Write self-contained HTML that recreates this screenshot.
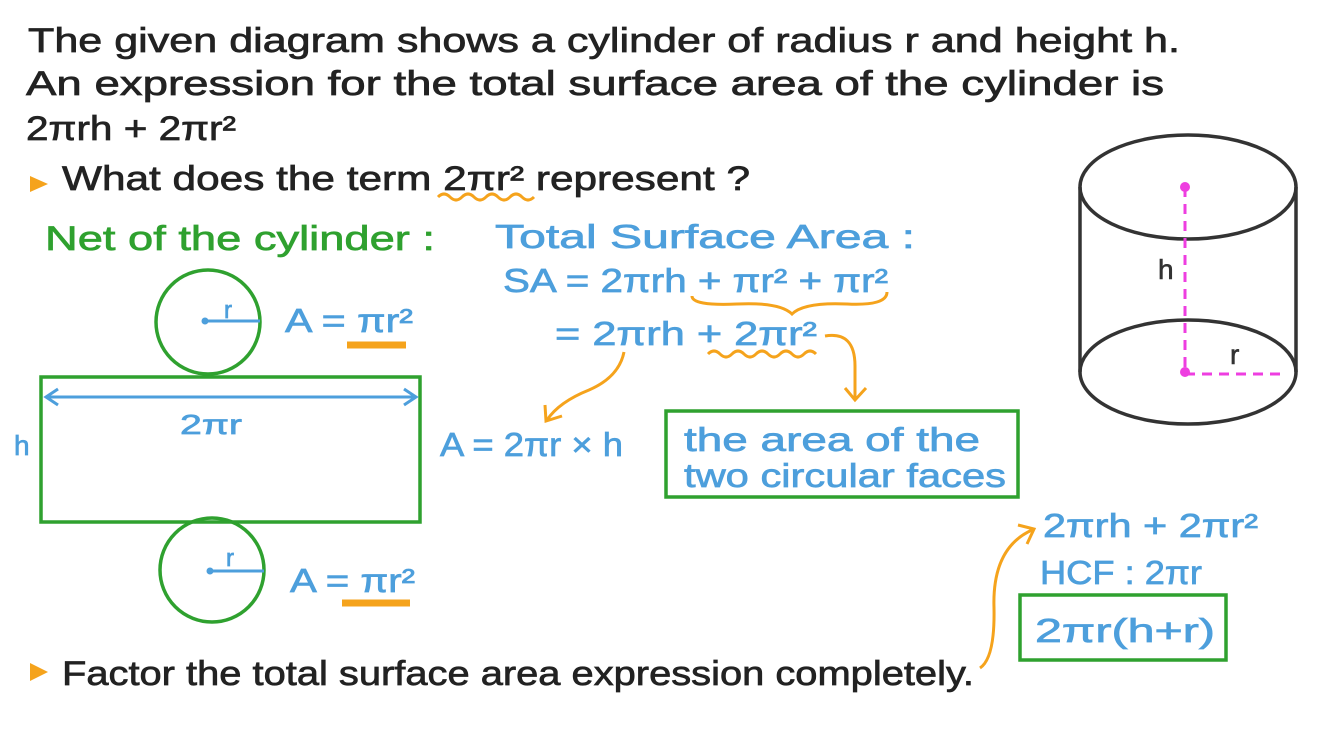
<!DOCTYPE html>
<html><head><meta charset="utf-8"><style>
html,body{margin:0;padding:0;background:#fff;}
svg{display:block;}
text{font-family:"Liberation Sans",sans-serif;}
</style></head><body>
<svg width="1344" height="756" viewBox="0 0 1344 756" xmlns="http://www.w3.org/2000/svg">
<g fill="#222" stroke="#222" stroke-width="0.7" font-size="34">
<text x="28" y="52" textLength="1152" lengthAdjust="spacingAndGlyphs">The given diagram shows a cylinder of radius r and height h.</text>
<text x="26" y="95" textLength="1138" lengthAdjust="spacingAndGlyphs">An expression for the total surface area of the cylinder is</text>
<text x="26" y="140" textLength="210" lengthAdjust="spacingAndGlyphs">2πrh + 2πr²</text>
<text x="62" y="190" textLength="688" lengthAdjust="spacingAndGlyphs">What does the term 2πr² represent ?</text>
<text x="62" y="685" textLength="912" lengthAdjust="spacingAndGlyphs">Factor the total surface area expression completely.</text>
</g>
<polygon points="30,176 48,184 30,192" fill="#f5a31c"/>
<polygon points="30,663 48,672 30,681" fill="#f5a31c"/>
<path d="M438,197 q6,-6 12,0 t12,0 t12,0 t12,0 t12,0 t12,0 t12,0 t12,0" stroke="#f5a31c" stroke-width="3" fill="none"/>
<text x="45" y="250" font-size="34" fill="#2fa12f" stroke="#2fa12f" stroke-width="0.7" textLength="390" lengthAdjust="spacingAndGlyphs">Net of the cylinder :</text>
<g fill="#4d9fdc" stroke="#4d9fdc" stroke-width="0.7" font-size="33">
<text x="495" y="248" textLength="420" lengthAdjust="spacingAndGlyphs">Total Surface Area :</text>
<text x="503" y="292" textLength="385" lengthAdjust="spacingAndGlyphs">SA = 2πrh + πr² + πr²</text>
<text x="555" y="345" textLength="262" lengthAdjust="spacingAndGlyphs">= 2πrh + 2πr²</text>
<text x="285" y="332" textLength="128" lengthAdjust="spacingAndGlyphs">A = πr²</text>
<text x="290" y="592" textLength="125" lengthAdjust="spacingAndGlyphs">A = πr²</text>
<text x="440" y="456" textLength="183" lengthAdjust="spacingAndGlyphs">A = 2πr × h</text>
<text x="180" y="434" font-size="28" textLength="62" lengthAdjust="spacingAndGlyphs">2πr</text>
<text x="14" y="455" font-size="28">h</text>
<text x="224" y="318" font-size="24">r</text>
<text x="226" y="566" font-size="24">r</text>
<text x="684" y="451" textLength="296" lengthAdjust="spacingAndGlyphs">the area of the</text>
<text x="684" y="487" textLength="322" lengthAdjust="spacingAndGlyphs">two circular faces</text>
<text x="1043" y="537" textLength="215" lengthAdjust="spacingAndGlyphs">2πrh + 2πr²</text>
<text x="1040" y="584" textLength="162" lengthAdjust="spacingAndGlyphs">HCF : 2πr</text>
<text x="1035" y="642" textLength="180" lengthAdjust="spacingAndGlyphs">2πr(h+r)</text>
</g>
<g stroke="#2fa12f" stroke-width="3.5" fill="none">
<circle cx="208" cy="322" r="52"/>
<circle cx="212" cy="570" r="52"/>
<rect x="41" y="377" width="379" height="145"/>
<rect x="666" y="411" width="352" height="86"/>
<rect x="1020" y="595" width="206" height="65"/>
</g>
<g stroke="#4d9fdc" stroke-width="3" fill="none">
<line x1="205" y1="321" x2="260" y2="321"/>
<line x1="210" y1="571" x2="264" y2="571"/>
<line x1="46" y1="397" x2="416" y2="397"/>
<path d="M58,389 L46,397 L58,405 M404,389 L416,397 L404,405"/>
</g>
<circle cx="205" cy="321" r="3.5" fill="#4d9fdc"/>
<circle cx="210" cy="571" r="3.5" fill="#4d9fdc"/>
<g stroke="#f5a31c" fill="none" stroke-width="3">
<line x1="347" y1="345" x2="406" y2="345" stroke-width="7"/>
<line x1="342" y1="603" x2="410" y2="603" stroke-width="7"/>
<path d="M692,296 q0,10 45,8 q43,-2 55,10 q12,-12 55,-10 q40,2 40,-12"/>
<path d="M708,354 q6,-6 12,0 t12,0 t12,0 t12,0 t12,0 t12,0 t12,0 t12,0 t12,0"/>
<path d="M624,352 q-5,25 -35,38 q-30,12 -42,30"/>
<path d="M545,405 L546,421 L562,416"/>
<path d="M825,336 q30,-5 30,30 l0,33"/>
<path d="M845,388 L855,400 L866,388"/>
<path d="M980,668 q15,-10 14,-60 q-2,-60 38,-78"/>
<path d="M1018,525 L1034,529 L1027,544"/>
</g>
<g stroke="#333" stroke-width="3.5" fill="none">
<ellipse cx="1188" cy="187" rx="108" ry="52"/>
<path d="M1080,372 A108,52 0 0 1 1296,372 A108,52 0 0 1 1080,372"/>
<line x1="1080" y1="187" x2="1080" y2="372"/>
<line x1="1296" y1="187" x2="1296" y2="372"/>
</g>
<g stroke="#ee3ee0" stroke-width="3" fill="none" stroke-dasharray="10,7">
<line x1="1185" y1="187" x2="1185" y2="372"/>
<line x1="1185" y1="374" x2="1283" y2="374"/>
</g>
<circle cx="1185" cy="187" r="5" fill="#ee3ee0"/>
<circle cx="1185" cy="372" r="5" fill="#ee3ee0"/>
<text x="1158" y="279" font-size="28" fill="#333" stroke="#333" stroke-width="0.6">h</text>
<text x="1230" y="364" font-size="28" fill="#333" stroke="#333" stroke-width="0.6">r</text>
</svg>
</body></html>
